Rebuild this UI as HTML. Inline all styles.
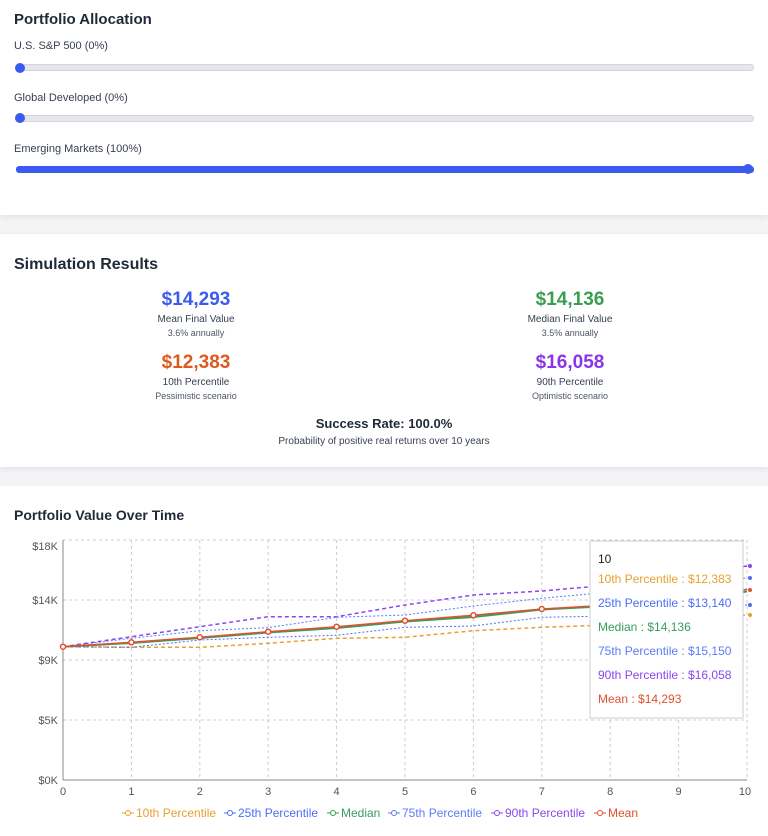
<!DOCTYPE html>
<html><head><meta charset="utf-8"><style>
body{margin:0;width:768px;height:836px;background:#f3f4f6;font-family:"Liberation Sans",sans-serif;position:relative;overflow:hidden;color:#1f2937}
.card{position:absolute;left:0;width:768px;background:#fff;box-shadow:0 2px 6px rgba(0,0,0,.08)}
.a{position:absolute;white-space:nowrap}
h2{margin:0;font-size:15px;font-weight:bold;position:absolute;left:14px;color:#1f2937}
.lbl{font-size:11px;color:#374151;left:14px}
.track{position:absolute;left:16px;width:736px;height:5px;border-radius:3px;background:#e5e7eb;border:1px solid #d1d5db}
.thumb{position:absolute;width:10px;height:10px;border-radius:50%;background:#3b5bf0}
.c{text-align:center;width:200px;margin-left:-100px}
</style></head><body>
<div class="card" style="top:0;height:215px">
<h2 style="top:11px">Portfolio Allocation</h2>
<div class="a lbl" style="top:40px">U.S. S&amp;P 500 (0%)</div>
<div class="track" style="top:64px"></div><div class="thumb" style="left:15px;top:63px"></div>
<div class="a lbl" style="top:92px">Global Developed (0%)</div>
<div class="track" style="top:115px"></div><div class="thumb" style="left:15px;top:113px"></div>
<div class="a lbl" style="top:143px">Emerging Markets (100%)</div>
<div class="track" style="top:166px;background:#3b5bf0;border-color:#3b5bf0"></div><div class="thumb" style="left:743px;top:164px"></div>
</div>
<div class="card" style="top:234px;height:233px">
<h2 style="top:22px;font-size:16px">Simulation Results</h2>
<div class="a c" style="left:196px;top:55px;font-size:19px;font-weight:bold;color:#3b5bf0">$14,293</div>
<div class="a c" style="left:196px;top:80px;font-size:10px;color:#374151">Mean Final Value</div>
<div class="a c" style="left:196px;top:94px;font-size:9px;color:#4b5563">3.6% annually</div>
<div class="a c" style="left:570px;top:55px;font-size:19px;font-weight:bold;color:#3a9d4f">$14,136</div>
<div class="a c" style="left:570px;top:80px;font-size:10px;color:#374151">Median Final Value</div>
<div class="a c" style="left:570px;top:94px;font-size:9px;color:#4b5563">3.5% annually</div>
<div class="a c" style="left:196px;top:118px;font-size:19px;font-weight:bold;color:#dd5a1e">$12,383</div>
<div class="a c" style="left:196px;top:143px;font-size:10px;color:#374151">10th Percentile</div>
<div class="a c" style="left:196px;top:157px;font-size:9px;color:#4b5563">Pessimistic scenario</div>
<div class="a c" style="left:570px;top:118px;font-size:19px;font-weight:bold;color:#8a35e8">$16,058</div>
<div class="a c" style="left:570px;top:143px;font-size:10px;color:#374151">90th Percentile</div>
<div class="a c" style="left:570px;top:157px;font-size:9px;color:#4b5563">Optimistic scenario</div>
<div class="a c" style="left:384px;top:182px;font-size:13px;font-weight:bold;color:#1f2937">Success Rate: 100.0%</div>
<div class="a" style="left:0;width:768px;text-align:center;top:202px;font-size:10px;color:#374151">Probability of positive real returns over 10 years</div>
</div>
<div class="card" style="top:486px;height:350px">
<h2 style="top:21px;font-size:14px">Portfolio Value Over Time</h2>
</div>
<svg class="a" style="left:0;top:0" width="768" height="836" font-family="Liberation Sans, sans-serif">
<g stroke="#ccc" stroke-dasharray="3,3" stroke-width="1">
<line x1="63" x2="747" y1="540" y2="540"/><line x1="63" x2="747" y1="600" y2="600"/><line x1="63" x2="747" y1="660" y2="660"/><line x1="63" x2="747" y1="720" y2="720"/>
<line x1="131.4" x2="131.4" y1="540" y2="780"/><line x1="199.8" x2="199.8" y1="540" y2="780"/><line x1="268.2" x2="268.2" y1="540" y2="780"/><line x1="336.6" x2="336.6" y1="540" y2="780"/><line x1="405" x2="405" y1="540" y2="780"/><line x1="473.4" x2="473.4" y1="540" y2="780"/><line x1="541.8" x2="541.8" y1="540" y2="780"/><line x1="610.2" x2="610.2" y1="540" y2="780"/><line x1="678.6" x2="678.6" y1="540" y2="780"/><line x1="747" x2="747" y1="540" y2="780"/>
</g>
<line x1="63" x2="63" y1="540" y2="780" stroke="#888"/><line x1="63" x2="747" y1="780" y2="780" stroke="#888"/>
<g font-size="11" fill="#555" text-anchor="end">
<text x="58" y="550">$18K</text><text x="58" y="604">$14K</text><text x="58" y="664">$9K</text><text x="58" y="724">$5K</text><text x="58" y="784">$0K</text></g>
<g font-size="11" fill="#555" text-anchor="middle">
<text x="63" y="795">0</text><text x="131.4" y="795">1</text><text x="199.8" y="795">2</text><text x="268.2" y="795">3</text><text x="336.6" y="795">4</text><text x="405" y="795">5</text><text x="473.4" y="795">6</text><text x="541.8" y="795">7</text><text x="610.2" y="795">8</text><text x="678.6" y="795">9</text><text x="745" y="795">10</text></g>
<g fill="none">
<polyline stroke="#e8a030" stroke-width="1.5" stroke-dasharray="4,3" points="63,646.7 131.4,647.3 199.8,647.3 268.2,643.3 336.6,638.3 405,637.3 473.4,630.7 541.8,627.3 610.2,625 678.6,620 747,615"/>
<polyline stroke="#4b6ef5" stroke-width="1" stroke-dasharray="2,2" points="63,646.7 131.4,647.3 199.8,640 268.2,637.3 336.6,635.3 405,627.3 473.4,626 541.8,617.3 610.2,616 678.6,610 747,605"/>
<polyline stroke="#5b7cf7" stroke-width="1" stroke-dasharray="2,2" points="63,646.7 131.4,638.3 199.8,630.7 268.2,627.7 336.6,617.3 405,615 473.4,606 541.8,598.3 610.2,592 678.6,585 747,578"/>
<polyline stroke="#8b47f0" stroke-width="1.5" stroke-dasharray="4,3" points="63,646.7 131.4,636.7 199.8,626.7 268.2,616.7 336.6,616.7 405,605 473.4,595 541.8,591 610.2,585 678.6,575 747,566"/>
<polyline stroke="#3a9d5d" stroke-width="2" points="63,646.7 131.4,643 199.8,638 268.2,632.5 336.6,628 405,621.5 473.4,617 541.8,609.5 610.2,606 678.6,600 747,591.5"/>
<polyline stroke="#e0502f" stroke-width="1.5" points="63,646.7 131.4,642.3 199.8,637.3 268.2,631.7 336.6,626.7 405,620.7 473.4,615.3 541.8,609 610.2,605 678.6,598 747,589.4"/>
<g stroke="#e0502f" fill="#fff" stroke-width="1.5"><circle cx="63" cy="646.7" r="2.5"/><circle cx="131.4" cy="642.3" r="2.5"/><circle cx="199.8" cy="637.3" r="2.5"/><circle cx="268.2" cy="631.7" r="2.5"/><circle cx="336.6" cy="626.7" r="2.5"/><circle cx="405" cy="620.7" r="2.5"/><circle cx="473.4" cy="615.3" r="2.5"/><circle cx="541.8" cy="609" r="2.5"/></g>
</g>
<g><circle cx="750" cy="566" r="2" fill="#8b47f0"/><circle cx="750" cy="578" r="2" fill="#4b6ef5"/><circle cx="750" cy="590" r="2" fill="#e0502f"/><circle cx="750" cy="605" r="2" fill="#4b6ef5"/><circle cx="750" cy="615" r="2" fill="#e8a030"/></g>
<rect x="590" y="541" width="153" height="177" fill="#fff" stroke="#ccc"/>
<g font-size="12"><text x="598" y="563" fill="#222">10</text>
<text x="598" y="583" fill="#e8a030">10th Percentile : $12,383</text>
<text x="598" y="607" fill="#4b6ef5">25th Percentile : $13,140</text>
<text x="598" y="631" fill="#3a9d5d">Median : $14,136</text>
<text x="598" y="655" fill="#5b7cf7">75th Percentile : $15,150</text>
<text x="598" y="679" fill="#8b47f0">90th Percentile : $16,058</text>
<text x="598" y="703" fill="#e0502f">Mean : $14,293</text></g>
<g font-size="12">
<text x="136" y="817" fill="#e8a030">10th Percentile</text>
<text x="238" y="817" fill="#4b6ef5">25th Percentile</text>
<text x="341" y="817" fill="#3a9d5d">Median</text>
<text x="402" y="817" fill="#5b7cf7">75th Percentile</text>
<text x="505" y="817" fill="#8b47f0">90th Percentile</text>
<text x="608" y="817" fill="#e0502f">Mean</text></g>
<g fill="#fff" stroke-width="1">
<line x1="122" x2="134" y1="813" y2="813" stroke="#e8a030"/><circle cx="128" cy="813" r="2.5" stroke="#e8a030"/>
<line x1="224" x2="236" y1="813" y2="813" stroke="#4b6ef5"/><circle cx="230" cy="813" r="2.5" stroke="#4b6ef5"/>
<line x1="327" x2="339" y1="813" y2="813" stroke="#3a9d5d"/><circle cx="333" cy="813" r="2.5" stroke="#3a9d5d"/>
<line x1="388" x2="400" y1="813" y2="813" stroke="#5b7cf7"/><circle cx="394" cy="813" r="2.5" stroke="#5b7cf7"/>
<line x1="491" x2="503" y1="813" y2="813" stroke="#8b47f0"/><circle cx="497" cy="813" r="2.5" stroke="#8b47f0"/>
<line x1="594" x2="606" y1="813" y2="813" stroke="#e0502f"/><circle cx="600" cy="813" r="2.5" stroke="#e0502f"/>
</g>
</svg>
</body></html>
